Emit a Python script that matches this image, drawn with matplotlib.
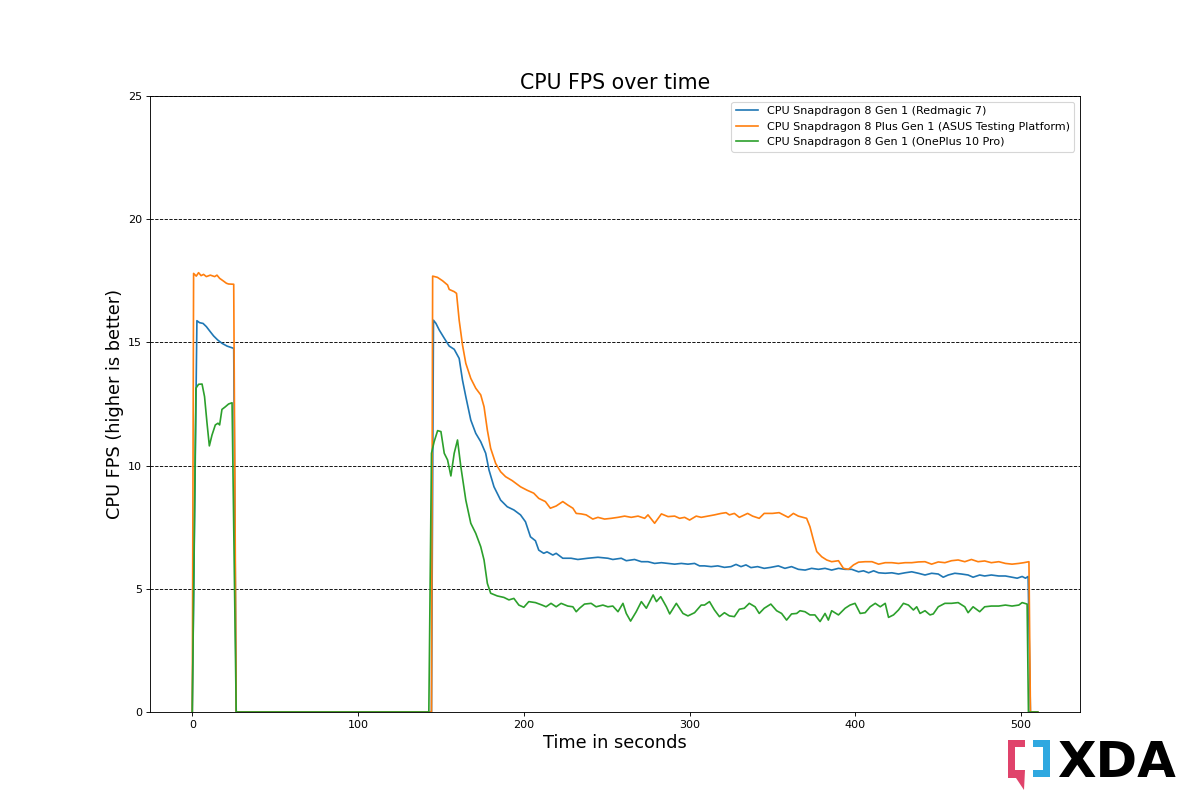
import matplotlib
matplotlib.use("Agg")
import matplotlib.pyplot as plt
from matplotlib.patches import Polygon

labels = ["CPU Snapdragon 8 Gen 1 (Redmagic 7)",
          "CPU Snapdragon 8 Plus Gen 1 (ASUS Testing Platform)",
          "CPU Snapdragon 8 Gen 1 (OnePlus 10 Pro)"]

blue_t = [0, 2.8, 4.4, 6.5, 8.5, 10.9, 12.9, 15.3, 18.0, 21.0,
          24.0, 25.0, 26.5, 144.3, 145.5, 147, 149, 152, 155, 158,
          161, 163, 165, 168, 171, 174, 177, 179, 182, 186,
          190, 194, 198, 201, 204, 207, 209, 212, 214, 217.5,
          219.5, 223.5, 228.5, 232.6, 238.6, 244.7, 250.7, 253.7, 258.8, 261.8,
          266.8, 270.9, 274.9, 278.9, 283, 287, 291, 295, 299, 303,
          306, 309, 313, 317, 321, 325, 328, 331, 334, 337,
          341, 345, 349, 353.5, 357.5, 361.5, 365.6, 369.7, 373.6, 377.7,
          381.7, 385.7, 389.8, 393.8, 397.8, 401.9, 404.9, 408, 411, 414,
          418, 422, 426, 430, 434, 438, 442, 446, 450, 453,
          456, 460, 464, 468, 471, 475, 478, 482, 486.5, 490.5,
          494.5, 497.6, 500.6, 502.6, 504.2, 505.6, 510]
blue_v = [0, 15.88, 15.80, 15.77, 15.64, 15.43, 15.26, 15.10, 14.96, 14.85,
          14.78, 14.76, 0, 0, 15.90, 15.77, 15.50, 15.17, 14.85, 14.72,
          14.35, 13.47, 12.80, 11.85, 11.31, 10.97, 10.50, 9.82, 9.14, 8.60,
          8.33, 8.20, 8.00, 7.72, 7.11, 6.95, 6.57, 6.44, 6.50, 6.37,
          6.44, 6.24, 6.24, 6.19, 6.24, 6.28, 6.24, 6.19, 6.24, 6.14,
          6.19, 6.10, 6.10, 6.03, 6.06, 6.03, 6.00, 6.03, 6.00, 6.03,
          5.93, 5.93, 5.90, 5.93, 5.87, 5.90, 5.99, 5.90, 5.97, 5.86,
          5.90, 5.83, 5.87, 5.93, 5.83, 5.90, 5.79, 5.76, 5.83, 5.79,
          5.83, 5.76, 5.83, 5.79, 5.79, 5.69, 5.73, 5.65, 5.73, 5.65,
          5.63, 5.65, 5.60, 5.65, 5.69, 5.63, 5.56, 5.63, 5.60, 5.47,
          5.56, 5.63, 5.60, 5.56, 5.47, 5.56, 5.52, 5.56, 5.52, 5.52,
          5.47, 5.43, 5.50, 5.43, 5.50, 0, 0]

orange_t = [0, 0.8, 2.4, 3.8, 5.3, 6.8, 8.5, 10.9, 13.5, 14.9,
            16.5, 18.6, 20.6, 21.9, 25.0, 26.5, 144.3, 145.0, 147.9, 151,
            154, 155, 158, 159.4, 161, 163, 165, 168, 171, 174,
            176, 178, 180, 183, 186, 189, 193, 198, 202, 206,
            209, 213, 216, 219.5, 223.5, 226.5, 229.6, 231.6, 234.6, 237.6,
            241.6, 244.7, 248.7, 252.7, 256.8, 260.8, 264.8, 268.9, 272.9, 274.9,
            278.9, 283, 287, 291, 294, 297, 300, 304, 307, 311,
            315, 319, 322, 324, 327, 330, 335, 338, 342, 345,
            350, 354, 359.5, 362.6, 365.6, 370.6, 372.6, 374.7, 376.7, 379.7,
            382.7, 385.7, 389.8, 392.8, 395.8, 398.9, 401.9, 405.9, 410, 414,
            418, 422, 426, 430, 434, 438, 442, 446, 450, 454,
            458, 462, 466, 470, 474, 478, 482, 486.5, 490.5, 494.5,
            498.6, 501.6, 504.7, 505.6, 510]
orange_v = [0, 17.80, 17.69, 17.83, 17.71, 17.76, 17.67, 17.73, 17.67, 17.73,
            17.60, 17.50, 17.40, 17.37, 17.36, 0, 0, 17.69, 17.64, 17.50,
            17.33, 17.15, 17.06, 16.99, 15.90, 14.90, 14.15, 13.54, 13.14, 12.87,
            12.39, 11.44, 10.70, 10.09, 9.75, 9.55, 9.39, 9.14, 9.00, 8.88,
            8.67, 8.54, 8.27, 8.36, 8.54, 8.40, 8.27, 8.06, 8.04, 8.00,
            7.83, 7.90, 7.83, 7.86, 7.90, 7.95, 7.90, 7.95, 7.86, 8.00,
            7.66, 8.04, 7.93, 7.95, 7.86, 7.90, 7.79, 7.95, 7.90, 7.95,
            8.00, 8.06, 8.09, 8.00, 8.06, 7.90, 8.06, 7.95, 7.86, 8.06,
            8.06, 8.09, 7.90, 8.06, 7.95, 7.86, 7.52, 6.98, 6.51, 6.30,
            6.17, 6.10, 6.14, 5.83, 5.79, 5.97, 6.08, 6.10, 6.10, 6.00,
            6.06, 6.06, 6.03, 6.06, 6.06, 6.09, 6.10, 6.00, 6.09, 6.06,
            6.14, 6.17, 6.10, 6.19, 6.10, 6.13, 6.06, 6.10, 6.03, 6.00,
            6.03, 6.06, 6.10, 0, 0]

green_t = [0, 2.2, 3.8, 5.9, 7.4, 8.9, 10.3, 11.9, 13.9, 15.5,
           16.5, 17.9, 20.0, 21.9, 24.0, 26.5, 142.7, 144.3, 145.9, 148,
           150, 152, 154, 156, 158, 160, 162, 165, 168, 171,
           174, 176, 178, 180, 184, 188, 191, 194, 197, 200,
           203, 207, 211, 213.4, 216.4, 219.5, 222.5, 226.5, 229.6, 231.6,
           233.6, 236.6, 240.6, 243.6, 247.7, 250.7, 253.7, 256.8, 259.8, 261.8,
           264.4, 267.8, 270.9, 273.9, 278, 280, 282.6, 286, 288, 292,
           296, 299, 303, 307, 309, 312, 315, 318, 321, 324,
           327, 330, 333, 336, 339.5, 342, 345, 349, 352.5, 355.5,
           358.5, 361.5, 364.6, 366.6, 369.6, 372.6, 375.6, 378.7, 381.7, 383.7,
           385.7, 389.8, 393.8, 396.8, 399.8, 402.9, 405.9, 408.9, 412, 415,
           418, 420, 423, 426, 429, 432, 435, 437, 439, 442,
           445, 447, 450, 454, 458, 462, 466, 468, 471, 475,
           478, 482, 486.5, 490.5, 494.5, 498.6, 500.6, 503.6, 504.4, 510]
green_v = [0, 13.14, 13.30, 13.31, 12.80, 11.72, 10.80, 11.24, 11.65, 11.72,
           11.65, 12.28, 12.39, 12.50, 12.55, 0, 0, 10.50, 10.97, 11.42,
           11.38, 10.50, 10.23, 9.58, 10.50, 11.04, 9.96, 8.60, 7.66, 7.25,
           6.71, 6.17, 5.22, 4.82, 4.71, 4.65, 4.55, 4.61, 4.34, 4.25,
           4.48, 4.44, 4.34, 4.27, 4.41, 4.27, 4.41, 4.30, 4.27, 4.07,
           4.21, 4.38, 4.41, 4.27, 4.34, 4.27, 4.30, 4.07, 4.41, 4.00,
           3.69, 4.07, 4.48, 4.21, 4.75, 4.48, 4.68, 4.27, 3.98, 4.41,
           4.00, 3.90, 4.03, 4.34, 4.34, 4.48, 4.14, 3.87, 4.03, 3.90,
           3.87, 4.17, 4.21, 4.41, 4.27, 4.00, 4.21, 4.38, 4.11, 4.00,
           3.73, 3.98, 4.00, 4.11, 4.07, 3.94, 3.94, 3.67, 4.00, 3.73,
           4.11, 3.94, 4.21, 4.34, 4.41, 4.00, 4.03, 4.27, 4.41, 4.27,
           4.41, 3.84, 3.94, 4.14, 4.41, 4.34, 4.14, 4.27, 4.00, 4.11,
           3.94, 3.98, 4.27, 4.41, 4.41, 4.44, 4.27, 4.03, 4.27, 4.07,
           4.27, 4.30, 4.30, 4.34, 4.30, 4.34, 4.44, 4.38, 0, 0]

y_ticks = [0, 5, 10, 15, 20, 25]
x_ticks = [0, 100, 200, 300, 400, 500]

fig, ax = plt.subplots(figsize=(15, 10), dpi=80)
ax.plot(blue_t, blue_v, color="#1f77b4", label=labels[0], linewidth=1.5)
ax.plot(orange_t, orange_v, color="#ff7f0e", label=labels[1], linewidth=1.5)
ax.plot(green_t, green_v, color="#2ca02c", label=labels[2], linewidth=1.5)

ax.set_ylim(0, 25)
ax.set_yticks(y_ticks)
ax.set_xticks(x_ticks)
ax.yaxis.grid(True, linestyle="--", color="black", linewidth=0.8)
ax.set_title("CPU FPS over time", fontsize=18.5)
ax.set_xlabel("Time in seconds", fontsize=16)
ax.set_ylabel("CPU FPS (higher is better)", fontsize=16)
ax.legend(loc="upper right", fontsize=10)

# XDA logo watermark (pixel coordinates, origin bottom-left)
pink = "#e0436b"
cyan = "#2fa8e0"
fig.patches.append(Polygon([[1008, 60], [1025, 60], [1025, 53], [1015, 53],
                            [1015, 30], [1025, 30], [1024, 10], [1016, 22],
                            [1008, 22]],
                           closed=True, transform=None, facecolor=pink,
                           edgecolor="none"))
fig.patches.append(Polygon([[1033, 60], [1050, 60], [1050, 23], [1033, 23],
                            [1033, 30], [1043, 30], [1043, 53], [1033, 53]],
                           closed=True, transform=None, facecolor=cyan,
                           edgecolor="none"))
fig.text(1057 / 1200, 23 / 800, "XDA", fontsize=45, fontweight="bold",
         va="baseline", ha="left", color="black", family="DejaVu Sans")

fig.savefig("out.png", dpi=80)
